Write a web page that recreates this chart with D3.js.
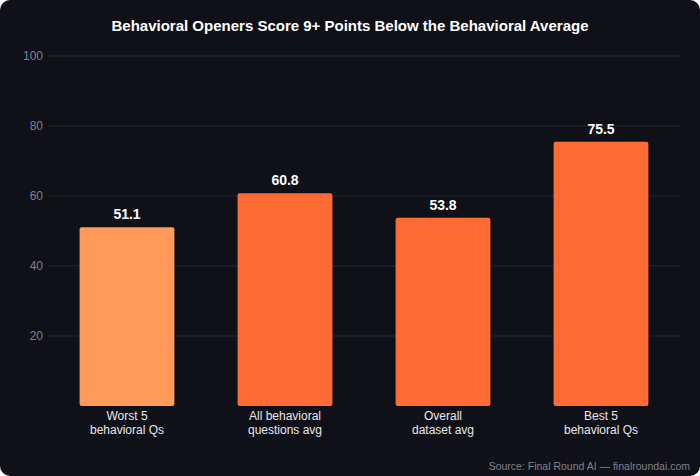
<!DOCTYPE html>
<html><head><meta charset="utf-8">
<script src="https://cdn.jsdelivr.net/npm/d3@7"></script>
<style>
body{margin:0;background:#fff}
svg{display:block;font-family:"Liberation Sans",Arial,sans-serif}
</style></head><body>
<script>
const categories = [
  ["Worst 5", "behavioral Qs"],
  ["All behavioral", "questions avg"],
  ["Overall", "dataset avg"],
  ["Best 5", "behavioral Qs"]
];
const values = [51.1, 60.8, 53.8, 75.5];
const barColors = ["#ff9a5a", "#ff6b35", "#ff6b35", "#ff6b35"];
const yTicks = [20, 40, 60, 80, 100];

const width = 700, height = 476;
const svg = d3.select("body").append("svg").attr("width", width).attr("height", height);
svg.append("rect").attr("width", width).attr("height", height).attr("rx", 10).attr("fill", "#0f1018");

const x = d3.scaleBand().domain(d3.range(values.length)).range([48, 680]).paddingInner(0.4).paddingOuter(0.2);
const y = d3.scaleLinear().domain([0, 100]).range([406, 56]);

svg.append("g").selectAll("line").data(yTicks).join("line")
  .attr("x1", 48).attr("x2", 680).attr("y1", d => y(d)).attr("y2", d => y(d))
  .attr("stroke", "#262a3b").attr("stroke-width", 1);
svg.append("g").selectAll("text").data(yTicks).join("text")
  .attr("x", 43).attr("y", d => y(d)).attr("dy", "0.35em").attr("text-anchor", "end")
  .attr("fill", "#80838f").attr("font-size", 12).text(d => d);

svg.append("g").selectAll("rect").data(values).join("rect")
  .attr("x", (d, i) => x(i)).attr("width", x.bandwidth())
  .attr("y", d => y(d)).attr("height", d => y(0) - y(d))
  .attr("rx", 2).attr("fill", (d, i) => barColors[i]);

svg.append("g").selectAll("text").data(values).join("text")
  .attr("x", (d, i) => x(i) + x.bandwidth() / 2).attr("y", d => y(d) - 8)
  .attr("text-anchor", "middle").attr("fill", "#fff").attr("font-size", 14).attr("font-weight", "bold")
  .text(d => d.toFixed(1));

const lab = svg.append("g").selectAll("text").data(categories).join("text")
  .attr("x", (d, i) => x(i) + x.bandwidth() / 2).attr("y", 420)
  .attr("text-anchor", "middle").attr("fill", "#e8e8ec").attr("font-size", 12);
lab.selectAll("tspan").data(d => d).join("tspan")
  .attr("x", function () { return this.parentNode.getAttribute("x"); })
  .attr("dy", (d, i) => i ? 14 : 0).text(d => d);

svg.append("text").attr("x", 350).attr("y", 31).attr("text-anchor", "middle")
  .attr("fill", "#fff").attr("font-size", 15).attr("font-weight", "bold")
  .text("Behavioral Openers Score 9+ Points Below the Behavioral Average");
svg.append("text").attr("x", 690).attr("y", 470).attr("text-anchor", "end")
  .attr("fill", "#80838f").attr("font-size", 10.5)
  .text("Source: Final Round AI \u2014 finalroundai.com");
</script></body></html>
